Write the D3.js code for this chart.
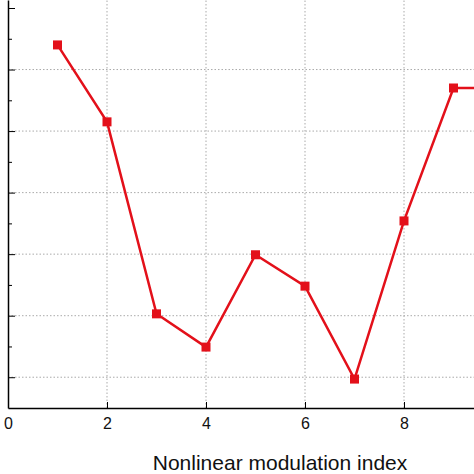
<!DOCTYPE html>
<html>
<head>
<meta charset="utf-8">
<script src="https://cdn.jsdelivr.net/npm/d3@7"></script>
<style>
body{margin:0;background:#fff;font-family:"Liberation Sans",Arial,sans-serif}
.grid line{stroke:#aaa;stroke-dasharray:1.5,2}
</style>
</head>
<body>
<script>
// data
var indexVals = [1, 2, 3, 4, 5, 6, 7, 8, 9, 10]
var values = [5.90, 4.65, 1.53, 0.99, 2.49, 1.98, 0.47, 3.04, 5.20, 5.20]
var xTicks = [0, 2, 4, 6, 8]
var yTicks = [0.5, 1.5, 2.5, 3.5, 4.5, 5.5, 6.5]
var yMinor = [1, 2, 3, 4, 5, 6]

var W = 474, H = 474
var m = {left: 8, top: 0, bottom: 66}
var x = d3.scaleLinear().domain([0, 10]).range([m.left, m.left + 495])
var y = d3.scaleLinear().domain([0, 6.63]).range([H - m.bottom, m.top])

var svg = d3.select("body").append("svg").attr("width", W).attr("height", H)

// grid
svg.append("g").attr("class", "grid")
  .selectAll("line").data(xTicks.slice(1)).join("line")
  .attr("x1", d => x(d)).attr("x2", d => x(d)).attr("y1", y(0)).attr("y2", 0)
svg.append("g").attr("class", "grid")
  .selectAll("line").data(yTicks.slice(0, 6)).join("line")
  .attr("x1", x(0)).attr("x2", W).attr("y1", d => y(d)).attr("y2", d => y(d))

// axes
svg.append("g").attr("transform", "translate(0," + y(0) + ")")
  .call(d3.axisBottom(x).tickValues(xTicks).tickSizeInner(-6).tickSizeOuter(0).tickPadding(10))
  .call(g => g.selectAll("text").attr("font-size", 16).attr("fill", "#111"))
  .call(g => g.select(".domain").attr("stroke-width", 1.5))
svg.append("g").attr("transform", "translate(" + x(0) + ",0)")
  .call(d3.axisLeft(y).tickValues(yTicks.concat(yMinor)).tickSizeInner(-6).tickSizeOuter(0).tickFormat(""))
  .call(g => g.select(".domain").attr("stroke-width", 1.5))
  .call(g => g.selectAll(".tick line").attr("x2", d => Number.isInteger(d) ? 4 : 7))

// line
var pts = indexVals.map((d, i) => [d, values[i]])
svg.append("path").datum(pts)
  .attr("d", d3.line().x(d => x(d[0])).y(d => y(d[1])))
  .attr("fill", "none").attr("stroke", "#e3101a").attr("stroke-width", 2.5)
svg.append("g").selectAll("rect").data(pts).join("rect")
  .attr("x", d => x(d[0]) - 4.5).attr("y", d => y(d[1]) - 4.5)
  .attr("width", 9).attr("height", 9).attr("fill", "#e3101a")

svg.append("text").attr("x", 280).attr("y", 470).attr("text-anchor", "middle")
  .attr("font-size", 21).attr("fill", "#111").text("Nonlinear modulation index")
</script>
</body>
</html>
